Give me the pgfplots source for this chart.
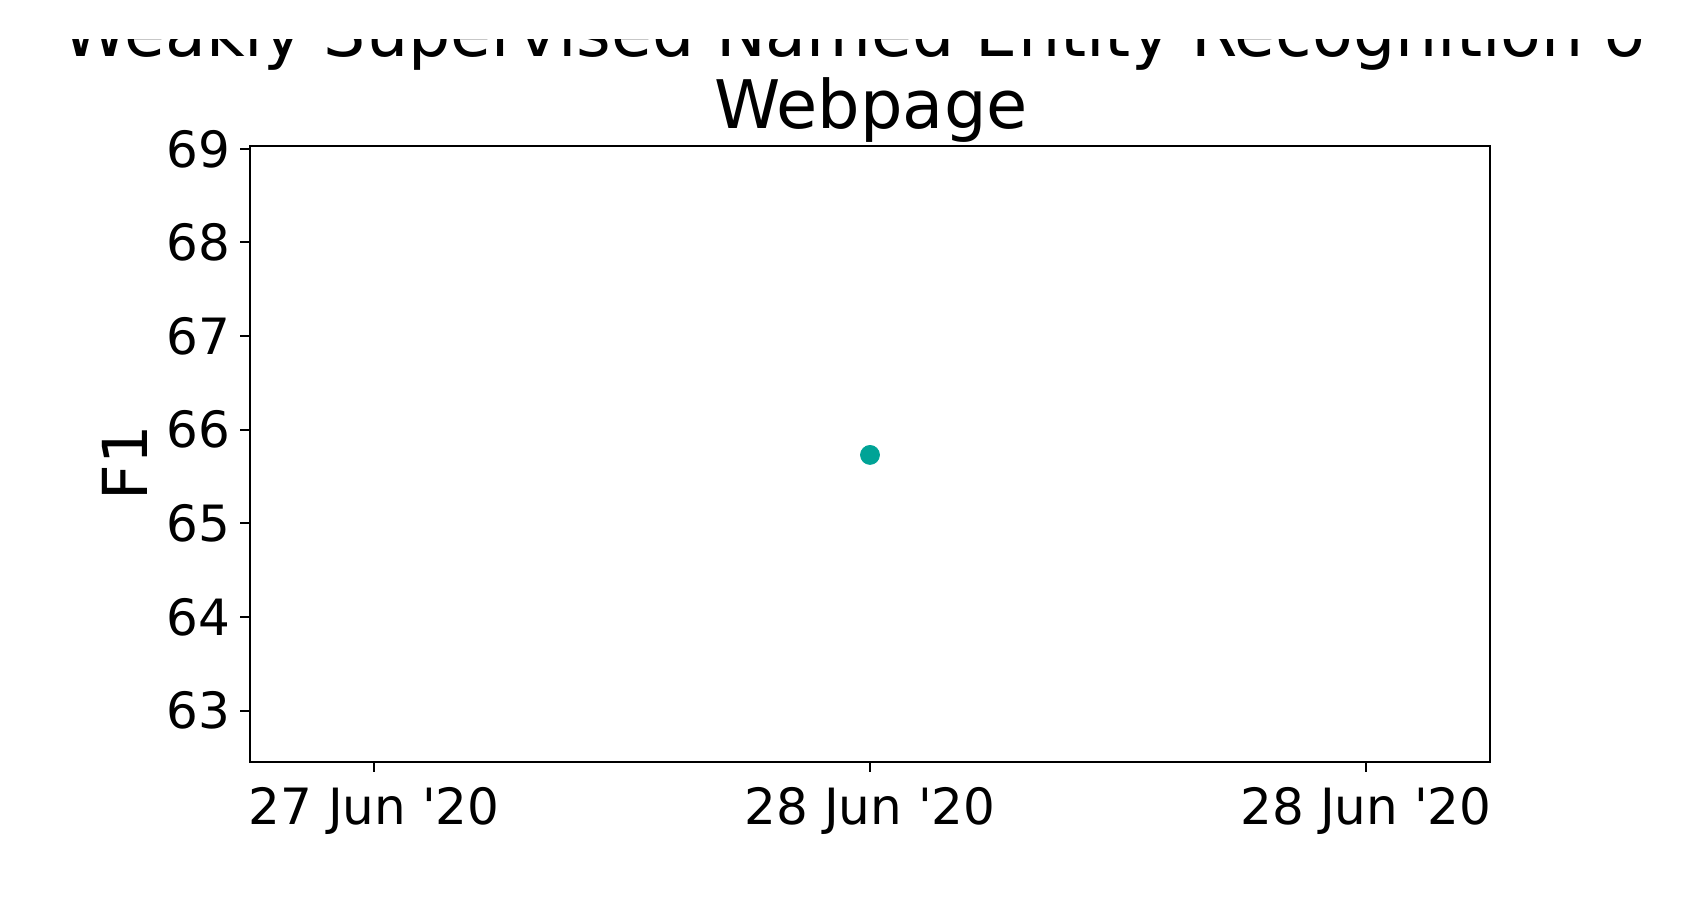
\documentclass[border=0pt]{standalone}
\usepackage{fontspec}
\setmainfont{DejaVu Sans}
\usepackage{pgfplots}
\pgfplotsset{compat=1.18}
\definecolor{pointteal}{RGB}{0,163,150}
\begin{document}
\begin{tikzpicture}
\begin{axis}[
  at={(125bp,69bp)}, anchor=south west,
  scale only axis, width=620bp, height=308bp,
  xmin=-1.25, xmax=1.25, ymin=62.45, ymax=69.03,
  xtick={-1,0,1},
  xticklabels={27 Jun \textquotesingle 20, 28 Jun \textquotesingle 20, 28 Jun \textquotesingle 20},
  ytick={63,64,65,66,67,68,69},
  tick align=outside, xtick pos=bottom, ytick pos=left,
  major tick length=5bp,
  tick style={line width=1bp, black},
  axis line style={line width=1.1bp, black},
  /pgf/number format/assume math mode=true,
  ticklabel style={font=\fontsize{25bp}{30bp}\selectfont},
  xticklabel style={yshift=-4bp},
  yticklabel style={xshift=-1.5bp},
  ylabel={F1},
  ylabel style={at={(axis description cs:-0.0823,0.486)}, rotate=0, anchor=base, font=\fontsize{31bp}{36bp}\selectfont},
  title={Webpage},
  title style={at={(axis description cs:0.5008,1.0082)}, anchor=base, yshift=0pt, font=\fontsize{33.5bp}{40bp}\selectfont},
  clip=false,
]
\addplot[only marks, mark=*, mark size=4.75bp, color=pointteal, mark options={fill=pointteal, draw=pointteal}] coordinates {(0,65.73)};
\end{axis}
\begin{scope}
\clip (0,0) rectangle (850bp,430bp);
\node[anchor=base, font=\fontsize{33.3bp}{40bp}\selectfont] at (427bp,421.5bp) {Weakly Supervised Named Entity Recognition o};
\end{scope}
\pgfresetboundingbox
\path[use as bounding box] (0,0) rectangle (850bp,450bp);
\end{tikzpicture}
\end{document}
